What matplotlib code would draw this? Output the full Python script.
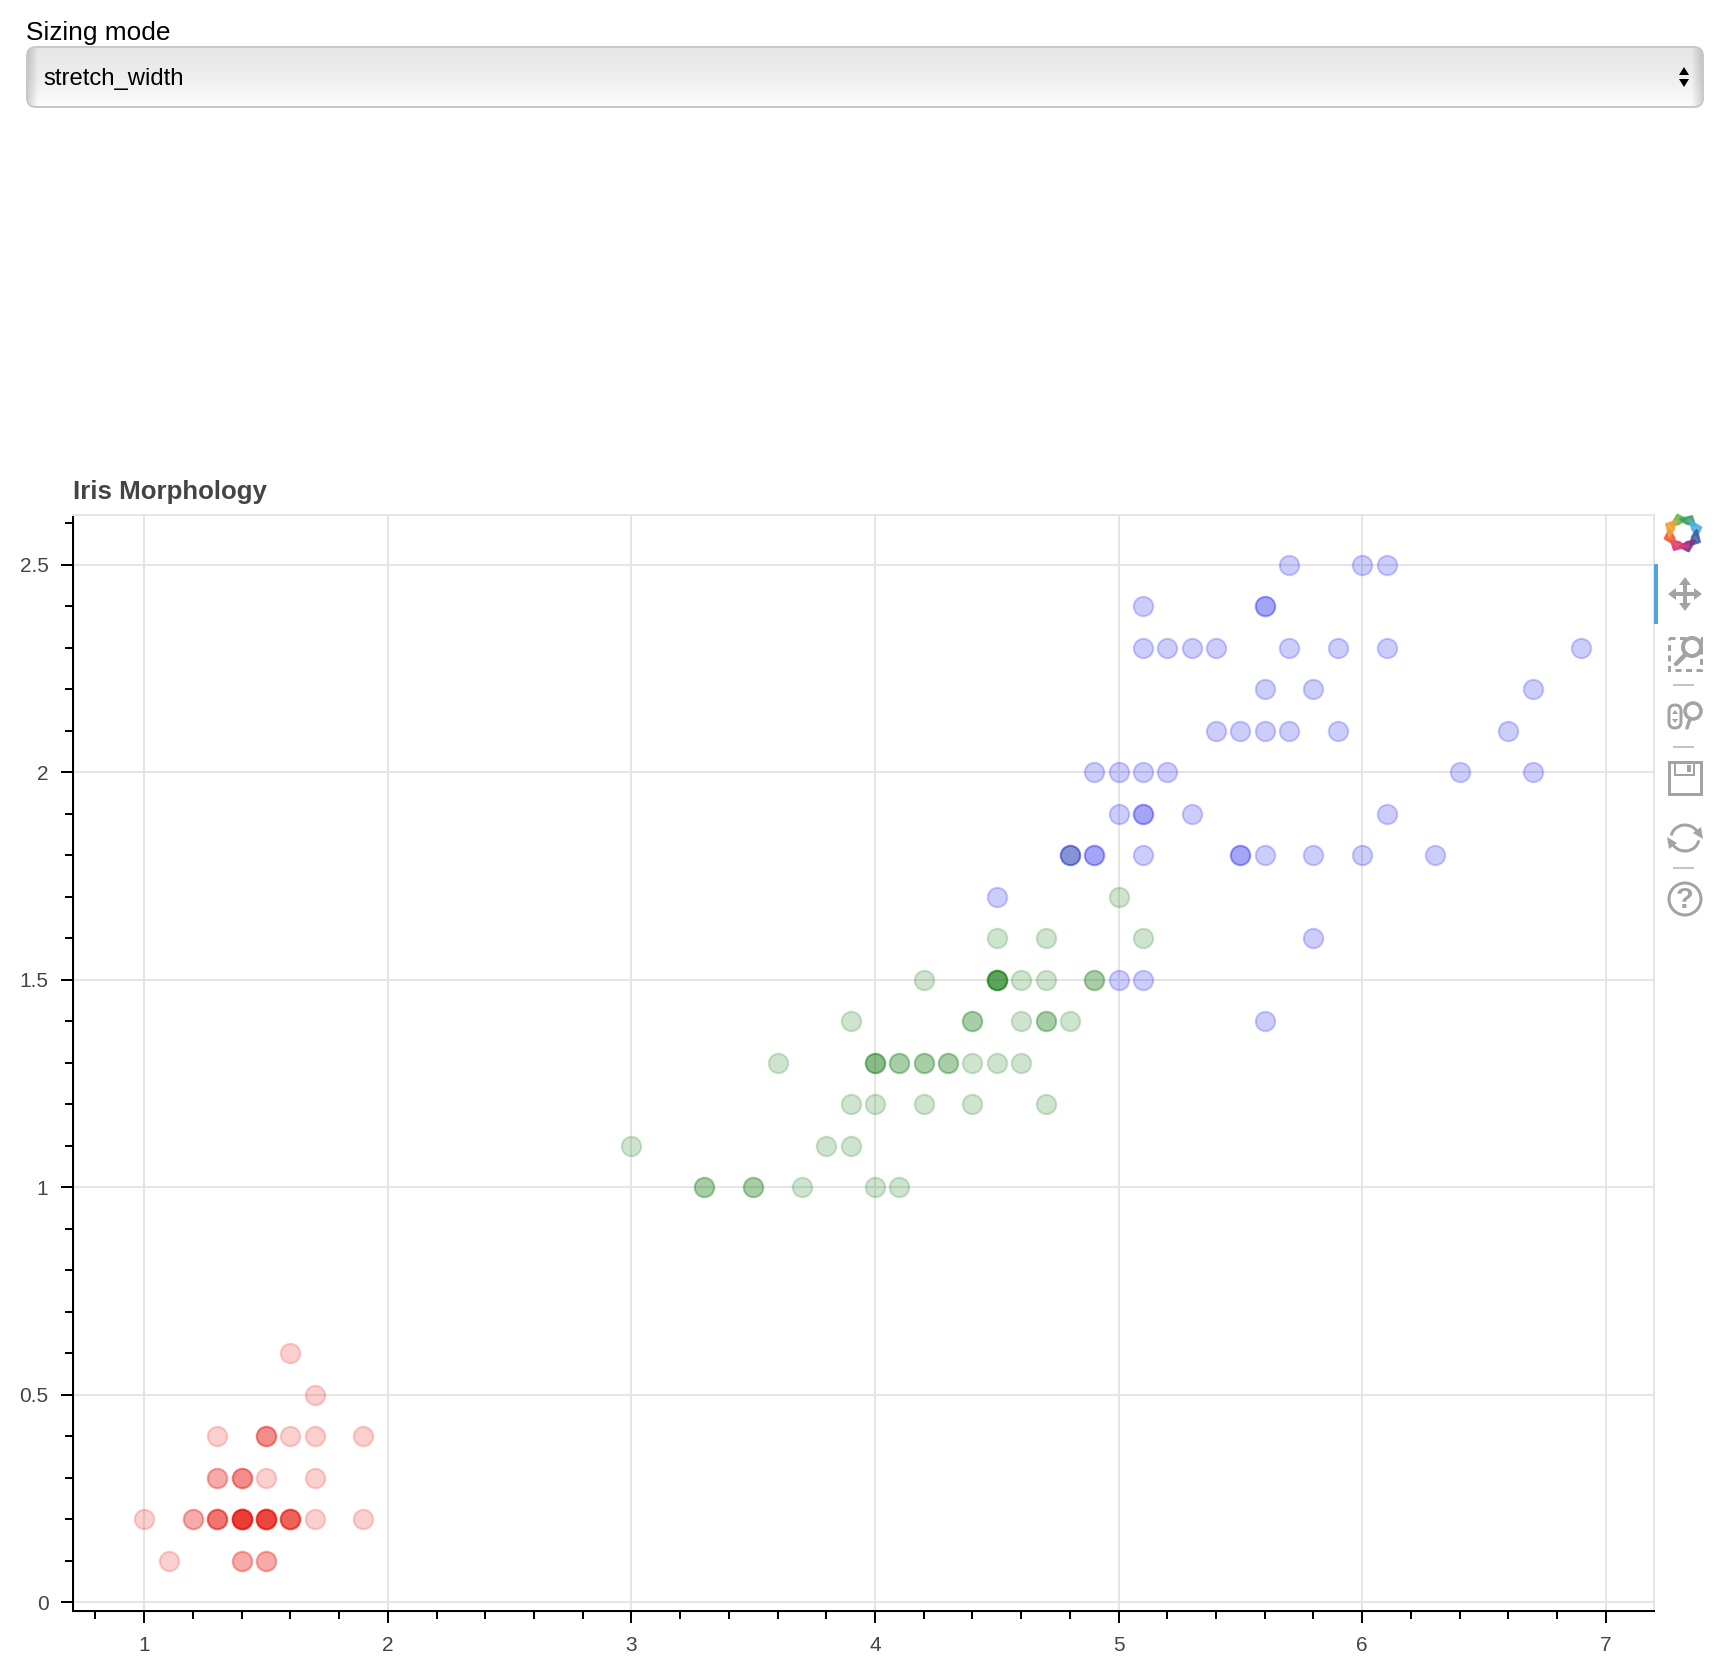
import numpy as np
import matplotlib
matplotlib.use("Agg")
import matplotlib.pyplot as plt
from matplotlib.patches import Circle, Polygon, Rectangle, FancyBboxPatch, Arc

W, H = 1724, 1660
DPI = 100

# petal length / petal width, per species
setosa_x = [1.4, 1.4, 1.3, 1.5, 1.4, 1.7, 1.4, 1.5, 1.4, 1.5, 1.5, 1.6, 1.4, 1.1, 1.2, 1.5, 1.3, 1.4, 1.7, 1.5, 1.7, 1.5, 1.0, 1.7, 1.9,
            1.6, 1.6, 1.5, 1.4, 1.6, 1.6, 1.5, 1.5, 1.4, 1.5, 1.2, 1.3, 1.4, 1.3, 1.5, 1.3, 1.3, 1.3, 1.6, 1.9, 1.4, 1.6, 1.4, 1.5, 1.4]
setosa_y = [0.2, 0.2, 0.2, 0.2, 0.2, 0.4, 0.3, 0.2, 0.2, 0.1, 0.2, 0.2, 0.1, 0.1, 0.2, 0.4, 0.4, 0.3, 0.3, 0.3, 0.2, 0.4, 0.2, 0.5, 0.2,
            0.2, 0.4, 0.2, 0.2, 0.2, 0.2, 0.4, 0.1, 0.2, 0.2, 0.2, 0.2, 0.1, 0.2, 0.2, 0.3, 0.3, 0.2, 0.6, 0.4, 0.3, 0.2, 0.2, 0.2, 0.2]
versicolor_x = [4.7, 4.5, 4.9, 4.0, 4.6, 4.5, 4.7, 3.3, 4.6, 3.9, 3.5, 4.2, 4.0, 4.7, 3.6, 4.4, 4.5, 4.1, 4.5, 3.9, 4.8, 4.0, 4.9, 4.7, 4.3,
                4.4, 4.8, 5.0, 4.5, 3.5, 3.8, 3.7, 3.9, 5.1, 4.5, 4.5, 4.7, 4.4, 4.1, 4.0, 4.4, 4.6, 4.0, 3.3, 4.2, 4.2, 4.2, 4.3, 3.0, 4.1]
versicolor_y = [1.4, 1.5, 1.5, 1.3, 1.5, 1.3, 1.6, 1.0, 1.3, 1.4, 1.0, 1.5, 1.0, 1.4, 1.3, 1.4, 1.5, 1.0, 1.5, 1.1, 1.8, 1.3, 1.5, 1.2, 1.3,
                1.4, 1.4, 1.7, 1.5, 1.0, 1.1, 1.0, 1.2, 1.6, 1.5, 1.6, 1.5, 1.3, 1.3, 1.3, 1.2, 1.4, 1.2, 1.0, 1.3, 1.2, 1.3, 1.3, 1.1, 1.3]
virginica_x = [6.0, 5.1, 5.9, 5.6, 5.8, 6.6, 4.5, 6.3, 5.8, 6.1, 5.1, 5.3, 5.5, 5.0, 5.1, 5.3, 5.5, 6.7, 6.9, 5.0, 5.7, 4.9, 6.7, 4.9, 5.7,
               6.0, 4.8, 4.9, 5.6, 5.8, 6.1, 6.4, 5.6, 5.1, 5.6, 6.1, 5.6, 5.5, 4.8, 5.4, 5.6, 5.1, 5.1, 5.9, 5.7, 5.2, 5.0, 5.2, 5.4, 5.1]
virginica_y = [2.5, 1.9, 2.1, 1.8, 2.2, 2.1, 1.7, 1.8, 1.8, 2.5, 2.0, 1.9, 2.1, 2.0, 2.4, 2.3, 1.8, 2.2, 2.3, 1.5, 2.3, 2.0, 2.0, 1.8, 2.1,
               1.8, 1.8, 1.8, 2.1, 1.6, 1.9, 2.0, 2.2, 1.5, 1.4, 2.3, 2.4, 1.8, 1.8, 2.1, 2.4, 2.3, 1.9, 2.3, 2.5, 2.3, 1.9, 2.0, 2.3, 1.8]

x_ticks = [1, 2, 3, 4, 5, 6, 7]
y_ticks = [0, 0.5, 1, 1.5, 2, 2.5]
y_tick_labels = ["0", "0.5", "1", "1.5", "2", "2.5"]

plt.rcParams["font.family"] = ["Liberation Sans", "DejaVu Sans"]
px = 72 / DPI  # points per pixel

fig = plt.figure(figsize=(W / DPI, H / DPI), dpi=DPI)

# plot frame in pixels
left, right, top, bottom = 73, 1654, 515, 1611
ax = fig.add_axes([left / W, 1 - bottom / H, (right - left) / W, (bottom - top) / H])
x0, xs = 144.2, 243.6   # pixel of x=1, pixels per unit
y0, ys = 1602.2, 415.0  # pixel of y=0, pixels per unit
ax.set_xlim(1 + (left - x0) / xs, 1 + (right - x0) / xs)
ax.set_ylim((y0 - bottom) / ys, (y0 - top) / ys)

ax.grid(True, color="#e5e5e5", linewidth=2 * px)
ax.set_axisbelow(True)
for s in ["top", "right"]:
    ax.spines[s].set_color("#e5e5e5")
    ax.spines[s].set_linewidth(2 * px)
for s in ["left", "bottom"]:
    ax.spines[s].set_color("black")
    ax.spines[s].set_linewidth(2 * px)

for xs_, ys_, col in [(setosa_x, setosa_y, "#e81810"),
                      (versicolor_x, versicolor_y, "#0f780c"),
                      (virginica_x, virginica_y, "#0505eb")]:
    ax.scatter(xs_, ys_, s=(19.5 * px) ** 2, facecolor=col, edgecolor=col,
               alpha=0.2, linewidth=2 * px, zorder=3)

ax.set_xticks(x_ticks)
ax.set_yticks(y_ticks)
ax.set_yticklabels(y_tick_labels)
ax.set_xticks(np.arange(0.8, 7.2, 0.2), minor=True)
ax.set_yticks(np.arange(0, 2.61, 0.1), minor=True)
ax.tick_params(which="major", length=12 * px, width=2 * px, color="black", labelcolor="#444444",
               labelsize=15, pad=9)
ax.tick_params(which="minor", length=8 * px, width=2 * px, color="black")

# inner stub of major ticks
sx = ax.secondary_xaxis("bottom")
sx.set_xticks(x_ticks)
sx.set_xticklabels([])
sx.tick_params(direction="in", length=4 * px, width=2 * px, color="black")
sy = ax.secondary_yaxis("left")
sy.set_yticks(y_ticks)
sy.set_yticklabels([])
sy.tick_params(direction="in", length=4 * px, width=2 * px, color="black")

# page chrome drawn in pixel coordinates
ui = fig.add_axes([0, 0, 1, 1], zorder=5)
ui.patch.set_alpha(0)
ui.axis("off")

ui.text(26, 33, "Sizing mode", fontsize=18.9, color="black", va="center", ha="left")
ui.text(73, 492, "Iris Morphology", fontsize=18.6, fontweight="bold", color="#444444", va="center", ha="left")

# select box with gradient
bx0, bx1, by0, by1 = 27, 1703, 47, 107
vert = np.interp(np.linspace(0, 1, 60), [0, 0.5, 1], [0.90, 0.93, 0.985])
horiz = np.ones(bx1 - bx0)
horiz[:12] = np.linspace(0.84, 1, 12)
horiz[-12:] = np.linspace(1, 0.84, 12)
grad = np.outer(vert, horiz)
box = FancyBboxPatch((bx0, by0), bx1 - bx0, by1 - by0, boxstyle="round,pad=0,rounding_size=9",
                     facecolor="none", edgecolor="#c8c8c8", linewidth=2 * px, zorder=3)
ui.add_patch(box)
im = ui.imshow(grad, extent=(bx0, bx1, by1, by0), cmap="gray", vmin=0, vmax=1, aspect="auto", zorder=2)
im.set_clip_path(box)
ui.set_xlim(0, W)
ui.set_ylim(H, 0)
ui.text(43, 79, "stretch_width", fontsize=17.2, color="black", va="center", ha="left", zorder=4)
ui.add_patch(Polygon([[1679, 75], [1689, 75], [1684, 67]], facecolor="black", zorder=4))
ui.add_patch(Polygon([[1679, 79], [1689, 79], [1684, 87]], facecolor="black", zorder=4))

# active tool marker
ui.add_patch(Rectangle((1654, 564), 4, 60, facecolor="#4ea6dc"))

# toolbar logo, petals clockwise from the top left
cx, cy = 1683, 533
logo_cols = ["#6cb84a", "#3f9f6f", "#4fb0dc", "#3d5fa8", "#8a2f80", "#e0347a", "#ef5a3c", "#f5a030"]
for i, c in enumerate(logo_cols):
    a = np.deg2rad(115 - i * 45)
    pts = []
    for r, da in [(10, 0), (14, 32), (19, -8), (14, -38)]:
        t = a + np.deg2rad(da)
        pts.append((cx + r * np.cos(t), cy - r * np.sin(t)))
    ui.add_patch(Polygon(pts, facecolor=c, edgecolor=c, lw=2.5 * px, joinstyle="round", alpha=0.85))

grey = "#a3a3a3"
lw = 3 * px
ix = 1685
# pan
for dx, dy in [(1, 0), (-1, 0), (0, 1), (0, -1)]:
    ui.plot([ix, ix + dx * 11], [594, 594 + dy * 11], color=grey, lw=4 * px, solid_capstyle="butt")
    tip = (ix + dx * 17, 594 + dy * 17)
    ui.add_patch(Polygon([tip, (ix + dx * 9 + dy * 6, 594 + dy * 9 + dx * 6), (ix + dx * 9 - dy * 6, 594 + dy * 9 - dx * 6)], facecolor=grey))
# box zoom
ui.add_patch(Rectangle((1669, 638), 32, 32, fill=False, edgecolor=grey, lw=lw, linestyle=(0, (2, 1.5))))
ui.add_patch(Circle((1692, 647), 9, fill=False, edgecolor=grey, lw=4 * px))
ui.plot([1686, 1676], [654, 664], color=grey, lw=4.5 * px, solid_capstyle="round")
for sep_y in [685, 747, 868]:
    ui.plot([1674, 1693], [sep_y, sep_y], color="#c4c4c4", lw=2 * px)
# wheel zoom
ui.add_patch(FancyBboxPatch((1669, 705), 12, 23, boxstyle="round,pad=0,rounding_size=6", fill=False, edgecolor=grey, lw=lw))
ui.add_patch(Polygon([[1672, 714], [1678, 714], [1675, 710]], facecolor=grey))
ui.add_patch(Polygon([[1672, 719], [1678, 719], [1675, 723]], facecolor=grey))
ui.add_patch(Circle((1693, 711), 8, fill=False, edgecolor=grey, lw=3.5 * px))
ui.plot([1690, 1687], [719, 728], color=grey, lw=3.5 * px, solid_capstyle="round")
# save
ui.add_patch(Rectangle((1669, 762), 32, 32, fill=False, edgecolor=grey, lw=lw))
ui.add_patch(Rectangle((1675.5, 762), 19, 13, fill=False, edgecolor=grey, lw=2 * px))
ui.add_patch(Rectangle((1687.5, 765), 4, 7, facecolor=grey))
# reset
ui.add_patch(Arc((ix, 838), 28, 26, theta1=190, theta2=330, edgecolor=grey, lw=lw))
ui.add_patch(Arc((ix, 838), 28, 26, theta1=10, theta2=150, edgecolor=grey, lw=lw))
ui.add_patch(Polygon([[ix + 8, 833], [ix + 18, 839], [ix + 16, 827]], facecolor=grey))
ui.add_patch(Polygon([[ix - 8, 843], [ix - 18, 837], [ix - 16, 849]], facecolor=grey))
# help
ui.add_patch(Circle((ix, 899), 16, fill=False, edgecolor=grey, lw=lw))
ui.text(ix, 900, "?", fontsize=21, fontweight="bold", color=grey, ha="center", va="center")

fig.savefig("out.png", dpi=DPI)
